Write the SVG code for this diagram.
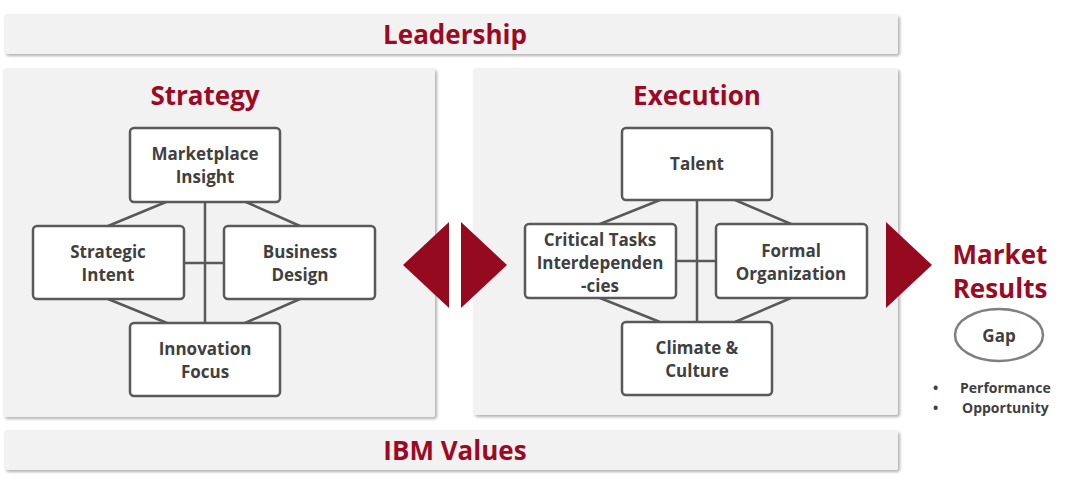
<svg xmlns="http://www.w3.org/2000/svg" width="1080" height="484" viewBox="0 0 1080 484">
<defs>
<filter id="sh" x="-5%" y="-5%" width="110%" height="115%"><feDropShadow dx="2" dy="2" stdDeviation="1.5" flood-color="#000" flood-opacity="0.3"/></filter>
<style>
.bar{fill:#f2f2f2;filter:url(#sh)}
.pan{fill:#f2f2f2;filter:url(#sh)}
.box{fill:#fff;stroke:#595959;stroke-width:2.5}
.t{font-family:"Open Sans","Liberation Sans",sans-serif;font-weight:bold;fill:#404040;font-size:17px;text-anchor:middle}
.h{font-family:"Open Sans","Liberation Sans",sans-serif;font-weight:bold;fill:#9b0a22;text-anchor:middle}
.ln{stroke:#595959;stroke-width:2.5;fill:none}
.tri{fill:#960a20}
</style>
</defs>
<rect class="bar" x="4" y="14" width="894" height="40" rx="3"/>
<text class="h" x="455" y="44" font-size="26">Leadership</text>
<rect class="bar" x="4" y="430" width="894" height="40" rx="3"/>
<text class="h" x="455" y="460" font-size="26">IBM Values</text>
<rect class="pan" x="3" y="68" width="432" height="349" rx="3"/>
<rect class="pan" x="473" y="68" width="425" height="347" rx="3"/>
<text class="h" x="205" y="105" font-size="26">Strategy</text>
<text class="h" x="697" y="105" font-size="26">Execution</text>
<g id="connectors">
<path class="ln" d="M205 202V323M184 263H224M166 202L108 226M246 202L300 226M108 299L167 323M300 299L245 323"/>
<path class="ln" d="M697 200V322M676 261H716M660 200L600 224M735 200L791 224M600 298L660 322M791 298L735 322"/>
</g>
<g id="marketplace"><rect class="box" x="130" y="128" width="150" height="74" rx="4"/><text class="t" x="205" y="160">Marketplace</text><text class="t" x="205" y="183">Insight</text></g>
<g id="strategic"><rect class="box" x="33" y="226" width="151" height="73" rx="4"/><text class="t" x="108" y="258">Strategic</text><text class="t" x="108" y="281">Intent</text></g>
<g id="business"><rect class="box" x="224" y="226" width="151" height="73" rx="4"/><text class="t" x="300" y="258">Business</text><text class="t" x="300" y="281">Design</text></g>
<g id="innovation"><rect class="box" x="130" y="323" width="150" height="73" rx="4"/><text class="t" x="205" y="355">Innovation</text><text class="t" x="205" y="378">Focus</text></g>
<g id="talent"><rect class="box" x="622" y="128" width="150" height="72" rx="4"/><text class="t" x="697" y="170">Talent</text></g>
<g id="critical"><rect class="box" x="525" y="224" width="151" height="74" rx="4"/><text class="t" x="600" y="246">Critical Tasks</text><text class="t" x="600" y="269">Interdependen</text><text class="t" x="600" y="292">-cies</text></g>
<g id="formal"><rect class="box" x="716" y="224" width="151" height="74" rx="4"/><text class="t" x="791" y="257">Formal</text><text class="t" x="791" y="280">Organization</text></g>
<g id="climate"><rect class="box" x="622" y="322" width="150" height="73" rx="4"/><text class="t" x="697" y="354">Climate &amp;</text><text class="t" x="697" y="377">Culture</text></g>
<polygon class="tri" points="403,265 449,222 449,308"/>
<polygon class="tri" points="461,222 507,265 461,308"/>
<polygon class="tri" points="886,222 932,265 886,308"/>
<g id="market">
<text class="h" x="1000" y="264" font-size="26">Market</text>
<text class="h" x="1000" y="298" font-size="26">Results</text>
</g>
<g id="gap"><ellipse cx="999" cy="335" rx="44" ry="26" fill="#fff" stroke="#7f7f7f" stroke-width="2.5"/><text class="t" x="999" y="342" font-size="19">Gap</text></g>
<g font-family="'Open Sans','Liberation Sans',sans-serif" font-weight="bold" font-size="14" fill="#404040">
<text x="933" y="393">•</text><text x="960" y="393">Performance</text>
<text x="933" y="413">•</text><text x="962" y="413">Opportunity</text>
</g>
</svg>
